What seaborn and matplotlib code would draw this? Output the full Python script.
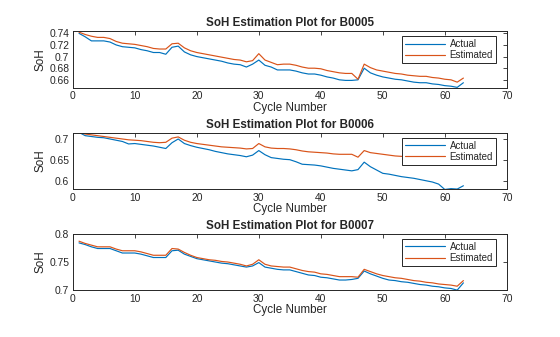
import numpy as np
import pandas as pd
import matplotlib
matplotlib.use("Agg")
import matplotlib.pyplot as plt
import seaborn as sns

cycles = list(range(1, 64))

b0005_actual = [0.740, 0.734, 0.727, 0.727, 0.727, 0.725, 0.720, 0.717, 0.716, 0.715,
                0.712, 0.710, 0.707, 0.707, 0.704, 0.716, 0.718, 0.708, 0.703, 0.700,
                0.698, 0.696, 0.694, 0.692, 0.689, 0.687, 0.686, 0.682, 0.687, 0.694,
                0.685, 0.682, 0.677, 0.677, 0.677, 0.675, 0.672, 0.670, 0.670, 0.668,
                0.665, 0.663, 0.660, 0.659, 0.659, 0.660, 0.680, 0.672, 0.668, 0.665,
                0.663, 0.661, 0.660, 0.658, 0.656, 0.655, 0.655, 0.653, 0.652, 0.650,
                0.649, 0.647, 0.655]
b0005_estimated = [0.742, 0.738, 0.735, 0.733, 0.733, 0.731, 0.726, 0.723, 0.722, 0.721,
                   0.719, 0.717, 0.714, 0.713, 0.713, 0.722, 0.723, 0.715, 0.710, 0.707,
                   0.705, 0.703, 0.701, 0.699, 0.697, 0.695, 0.694, 0.691, 0.693, 0.705,
                   0.694, 0.690, 0.686, 0.687, 0.687, 0.685, 0.682, 0.680, 0.680, 0.679,
                   0.676, 0.674, 0.672, 0.671, 0.671, 0.661, 0.687, 0.681, 0.677, 0.675,
                   0.673, 0.671, 0.670, 0.668, 0.667, 0.666, 0.666, 0.664, 0.663, 0.661,
                   0.660, 0.656, 0.663]

b0006_actual = [0.717, 0.709, 0.707, 0.705, 0.704, 0.701, 0.698, 0.695, 0.689, 0.690,
                0.688, 0.686, 0.684, 0.681, 0.678, 0.692, 0.701, 0.690, 0.685, 0.681,
                0.678, 0.675, 0.671, 0.668, 0.665, 0.663, 0.661, 0.658, 0.662, 0.673,
                0.663, 0.656, 0.654, 0.652, 0.651, 0.646, 0.640, 0.639, 0.638, 0.636,
                0.633, 0.630, 0.628, 0.626, 0.624, 0.627, 0.645, 0.634, 0.626, 0.618,
                0.616, 0.613, 0.610, 0.608, 0.606, 0.603, 0.600, 0.597, 0.592, 0.579,
                0.581, 0.580, 0.588]
b0006_estimated = [0.717, 0.713, 0.711, 0.709, 0.707, 0.705, 0.703, 0.701, 0.699, 0.698,
                   0.697, 0.695, 0.693, 0.692, 0.693, 0.703, 0.706, 0.698, 0.693, 0.690,
                   0.688, 0.686, 0.684, 0.682, 0.681, 0.680, 0.679, 0.677, 0.678, 0.690,
                   0.682, 0.679, 0.678, 0.678, 0.677, 0.675, 0.672, 0.670, 0.669, 0.668,
                   0.667, 0.665, 0.664, 0.664, 0.664, 0.657, 0.673, 0.668, 0.666, 0.664,
                   0.662, 0.660, 0.659, 0.658, 0.657, 0.656, 0.655, 0.654, 0.653, 0.652,
                   0.652, 0.651, 0.655]

b0007_actual = [0.784, 0.781, 0.777, 0.774, 0.774, 0.774, 0.770, 0.766, 0.766, 0.766,
                0.764, 0.761, 0.758, 0.758, 0.758, 0.770, 0.771, 0.764, 0.760, 0.756,
                0.754, 0.752, 0.750, 0.748, 0.747, 0.745, 0.743, 0.741, 0.743, 0.749,
                0.741, 0.739, 0.737, 0.736, 0.736, 0.733, 0.730, 0.727, 0.726, 0.723,
                0.722, 0.720, 0.718, 0.718, 0.719, 0.721, 0.734, 0.729, 0.725, 0.721,
                0.718, 0.717, 0.715, 0.714, 0.712, 0.710, 0.709, 0.707, 0.706, 0.704,
                0.703, 0.700, 0.713]
b0007_estimated = [0.787, 0.783, 0.780, 0.777, 0.777, 0.777, 0.773, 0.770, 0.770, 0.770,
                   0.768, 0.765, 0.762, 0.762, 0.762, 0.774, 0.773, 0.767, 0.762, 0.758,
                   0.756, 0.754, 0.753, 0.751, 0.750, 0.748, 0.746, 0.743, 0.746, 0.754,
                   0.746, 0.743, 0.742, 0.741, 0.741, 0.738, 0.735, 0.733, 0.732, 0.729,
                   0.728, 0.726, 0.724, 0.724, 0.724, 0.723, 0.737, 0.733, 0.729, 0.726,
                   0.724, 0.722, 0.721, 0.719, 0.717, 0.716, 0.714, 0.713, 0.711, 0.710,
                   0.709, 0.707, 0.717]

batteries = ["B0005", "B0006", "B0007"]
actual_series = [b0005_actual, b0006_actual, b0007_actual]
estimated_series = [b0005_estimated, b0006_estimated, b0007_estimated]
y_limits = [(0.646, 0.744), (0.58, 0.716), (0.70, 0.80)]
y_ticks = [[0.66, 0.68, 0.70, 0.72, 0.74], [0.60, 0.65, 0.70], [0.70, 0.75, 0.80]]
y_ticklabels = [["0.66", "0.68", "0.7", "0.72", "0.74"], ["0.6", "0.65", "0.7"],
                ["0.7", "0.75", "0.8"]]
x_ticks = [0, 10, 20, 30, 40, 50, 60, 70]

sns.set_style("white")
plt.rcParams["font.family"] = ["Liberation Sans", "DejaVu Sans"]
plt.rcParams["xtick.direction"] = "in"
plt.rcParams["ytick.direction"] = "in"

palette = {"Actual": "#0072BD", "Estimated": "#D95319"}
edge = "#262626"

fig = plt.figure(figsize=(5.6, 3.37), dpi=100)
axes_boxes = [
    [0.130, 0.739, 0.775, 0.169],
    [0.130, 0.439, 0.775, 0.167],
    [0.130, 0.139, 0.775, 0.167],
]

for box, name, act, est, ylim, yt, ytl in zip(axes_boxes, batteries, actual_series,
                                              estimated_series, y_limits, y_ticks,
                                              y_ticklabels):
    ax = fig.add_axes(box)
    df = pd.DataFrame({
        "Cycle": cycles * 2,
        "SoH": act + est,
        "Series": ["Actual"] * len(cycles) + ["Estimated"] * len(cycles),
    })
    sns.lineplot(data=df, x="Cycle", y="SoH", hue="Series", palette=palette,
                 linewidth=0.85, ax=ax)
    ax.set_xlim(0, 70)
    ax.set_ylim(*ylim)
    ax.set_xticks(x_ticks)
    ax.set_yticks(yt)
    ax.set_yticklabels(ytl)
    ax.tick_params(axis="both", which="both", direction="in", length=3, width=0.6,
                   colors=edge, labelsize=7.4, top=True, right=True, pad=2.5)
    for sp in ax.spines.values():
        sp.set_visible(True)
        sp.set_color(edge)
        sp.set_linewidth(0.7)
    ax.set_xlabel("Cycle Number", fontsize=8.4, color=edge, labelpad=0.5)
    ax.set_ylabel("SoH", fontsize=8.4, color=edge, labelpad=2)
    ax.set_title(f"SoH Estimation Plot for {name}", fontsize=8.4, fontweight="bold",
                 color=edge, pad=3.5)
    leg = ax.legend(loc="upper right", fontsize=7, frameon=True, fancybox=False,
                    edgecolor=edge, framealpha=1, borderpad=0.3, handlelength=4.1,
                    handletextpad=0.5, labelspacing=0.12, borderaxespad=0.0,
                    bbox_to_anchor=(0.975, 0.912))
    leg.get_frame().set_linewidth(0.7)
    for t in leg.get_texts():
        t.set_color(edge)

fig.savefig("out.png", dpi=100)
